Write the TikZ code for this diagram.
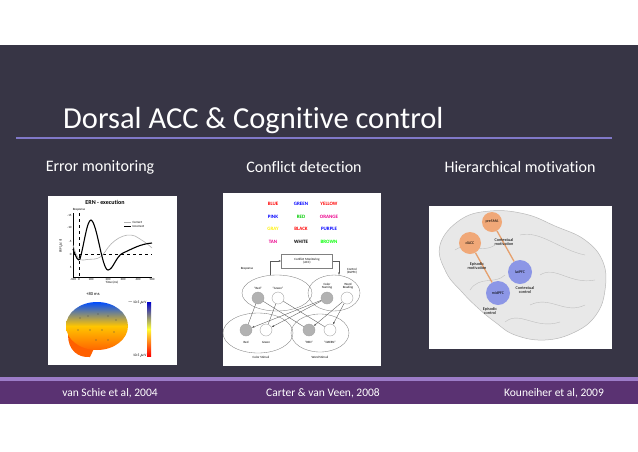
\documentclass[tikz,border=0pt]{standalone}
\usepackage{fontspec}
\setmainfont{Carlito}[Ligatures=NoCommon]
\usetikzlibrary{arrows.meta}
\definecolor{slide}{HTML}{373545}
\definecolor{rule}{HTML}{8078C8}
\definecolor{barlt}{HTML}{9C7CC8}
\definecolor{bar}{HTML}{5A3272}
\definecolor{orng}{HTML}{F0A878}
\definecolor{blu}{HTML}{8C96E6}
\tikzset{
  head/.style={text=white,font=\fontsize{16}{18}\selectfont},
  cite/.style={text=white,font=\fontsize{11.5}{13}\selectfont},
  tiny/.style={font=\fontsize{3.2}{3.6}\selectfont,inner sep=0.3pt,align=center},
  stroop/.style={font=\bfseries\fontsize{5}{6}\selectfont,inner sep=0.5pt},
  blob/.style={circle,draw=gray!70,line width=0.4pt,minimum size=12pt,inner sep=0pt},
  link/.style={gray!70!black,line width=0.35pt},
  area/.style={circle,inner sep=0pt,font=\fontsize{4}{5}\selectfont},
}
\begin{document}
\begin{tikzpicture}[x=1pt,y=-1pt]
\useasboundingbox (0,0) rectangle (638,451);
\fill[white] (0,0) rectangle (638,451);
\fill[slide] (0,45) rectangle (638,378);
\fill[barlt] (0,377) rectangle (638,381);
\fill[bar] (0,381) rectangle (638,404);
% title
\node[anchor=base west,text=white,inner sep=0pt,font=\fontsize{30.5}{33}\selectfont] (title) at (63,128) {Dorsal ACC \& Cognitive control};
\draw[rule,line width=1.2pt] (16,138) -- (612,138);
\node[head] (h1) at (100,167) {Error monitoring};
\node[head] (h2) at (304,167) {Conflict detection};
\node[head] (h3) at (520,167) {Hierarchical motivation};
\node[cite] (c1) at (110,393) {van Schie et al, 2004};
\node[cite] (c2) at (323,393) {Carter \& van Veen, 2008};
\node[cite] (c3) at (554,393) {Kouneiher et al, 2009};

% ---- left panel: ERN ----
\fill[white] (48,196) rectangle (177,365);
\node[font=\bfseries\fontsize{6}{7}\selectfont,inner sep=0pt] (ern) at (105,202) {ERN - execution};
\node[tiny] (resp) at (79,210) {Response};
\draw[line width=0.4pt] (73,213) -- (73,277) -- (152,277);
\foreach \v/\y in {-15/215,-10/227,-5/241,0/254,5/267}
  \node[tiny,anchor=east] at (72,\y) {\v};
\foreach \v/\x in {-100/73,0/79,100/91,200/108,300/123,400/138,500/152}
  \node[tiny,anchor=north] at (\x,278) {\v};
\node[tiny,rotate=90] (erp) at (61,246) {ERP [$\mu$V]};
\node[tiny] (tm) at (112,283) {Time (ms)};
\draw[dashed,line width=0.4pt] (73,254) -- (152,254);
\draw[dashed,line width=0.4pt] (79,213) -- (79,277);
\draw[gray!60,line width=0.6pt] (73,245) .. controls (76,255) and (79,262) .. (84,260) .. controls (92,258) and (98,262) .. (105,252) .. controls (112,240) and (125,232) .. (135,236) .. controls (142,240) and (148,244) .. (152,248);
\draw[line width=1.1pt] (73,249) .. controls (76,257) and (78,262) .. (80,259) .. controls (84,245) and (87,220) .. (91,220) .. controls (97,222) and (102,270) .. (108,270) .. controls (113,270) and (116,256) .. (123,253) .. controls (132,249) and (140,244) .. (152,243);
\draw[gray!60,line width=0.5pt] (124,222) -- (131,222); \node[tiny,anchor=west] at (132,222) {Correct};
\draw[line width=0.9pt] (124,226) -- (131,226); \node[tiny,anchor=west] at (132,226) {Incorrect};
% scalp map
\node[tiny,font=\fontsize{4.5}{5}\selectfont] (ms) at (93,294) {+80 ms};
\fill[orange!75!red] (68,335) .. controls (68,350) and (78,358) .. (90,357) -- (98,340) -- cycle;
\shade[top color=blue!70!cyan,bottom color=orange!80!red,middle color=orange!45!yellow] (97,326) ellipse (31 and 24);
\foreach \p in {(80,318),(88,316),(98,314),(108,316),(116,320),(78,330),(90,330),(102,330),(114,332),(96,340),(108,340)}
  \fill[black!70] \p circle (0.6);
\shade[top color=blue!80!black,bottom color=red,middle color=yellow!80] (147,302) rectangle (151,356);
\node[tiny,font=\fontsize{3.6}{4}\selectfont,anchor=east] at (147,302) {$-$10.5 $\mu$V};
\node[tiny,font=\fontsize{3.6}{4}\selectfont,anchor=east] at (147,356) {10.5 $\mu$V};

% ---- middle panel: conflict ----
\fill[white] (223,193) rectangle (381,366);
\foreach \w/\c/\x/\y in {BLUE/red/273/204,GREEN/blue/301/204,YELLOW/red/329/204,
  PINK/blue/273/217,RED/green!80!black/301/217,ORANGE/magenta/329/217,
  GRAY/yellow/273/229,BLACK/red/301/229,PURPLE/blue/329/229,
  TAN/magenta/273/242,WHITE/black/301/242,BROWN/green/329/242}
  \node[stroop,text=\c] at (\x,\y) {\w};
\node[draw=gray,line width=0.3pt,tiny,minimum width=51pt,minimum height=14pt] (acc) at (307,261) {Conflict Monitoring\\(ACC)};
\node[tiny] (rl) at (247,269) {Response};
\node[tiny] (cl) at (352,271) {Control\\(DLPFC)};
\draw[gray,line width=0.35pt] (277,293) ellipse (35 and 18);
\draw[gray,line width=0.35pt] (334,293) ellipse (26 and 18);
\draw[gray,line width=0.35pt] (258,333) ellipse (35 and 20);
\draw[gray,line width=0.35pt] (320,333) ellipse (29 and 19);
\coordinate (rtop) at (270,275);
\coordinate (ctop) at (339,275);
\draw[link,-{Latex[length=2.5pt]}] (rtop) |- (acc.west);
\draw[link,-{Latex[length=2.5pt]}] (acc.east) -| (ctop);
\node[blob,fill=gray!60] (r1) at (258,298) {};
\node[blob,fill=white] (r2) at (278,298) {};
\node[blob,fill=gray!60] (k1) at (327,298) {};
\node[blob,fill=white] (k2) at (347,298) {};
\node[blob,fill=gray!60] (s1) at (246,330) {};
\node[blob,fill=white] (s2) at (266,330) {};
\node[blob,fill=gray!60] (w1) at (309,330) {};
\node[blob,fill=white] (w2) at (330,330) {};
\node[tiny] at (258,288) {``Red''};
\node[tiny] at (278,288) {``Green''};
\node[tiny] at (327,286) {Color\\Naming};
\node[tiny] at (348,286) {Word\\Reading};
\node[tiny] at (246,342) {Red};
\node[tiny] at (266,342) {Green};
\node[tiny] at (309,342) {``RED''};
\node[tiny] at (330,342) {``GREEN''};
\node[tiny] at (261,357) {Color Stimuli};
\node[tiny] at (320,357) {Word Stimuli};
\draw[link] (r1) -- (s1);
\draw[link] (r1) -- (w1);
\draw[link] (r2) -- (s2);
\draw[link] (r2) -- (w2);
\draw[link,-{Latex[length=2.5pt]}] (k1) -- (s1);
\draw[link,-{Latex[length=2.5pt]}] (k1) -- (s2);
\draw[link,-{Latex[length=2.5pt]}] (k2) -- (w1);
\draw[link,-{Latex[length=2.5pt]}] (k2) -- (w2);

% ---- right panel: brain ----
\fill[white] (429,206) rectangle (612,349);
\fill[gray!18,draw=gray!55,line width=0.5pt] plot[smooth cycle,tension=0.7] coordinates
  {(440,245) (460,220) (490,211) (525,214) (555,226) (585,240) (603,262) (605,290) (596,315) (575,332) (545,340) (515,335) (495,322) (478,308) (462,292) (446,272)};
\draw[gray!50,line width=0.4pt] (455,250) .. controls (470,240) and (480,255) .. (495,245);
\draw[gray!50,line width=0.4pt] (520,235) .. controls (540,230) and (560,250) .. (585,255);
\draw[gray!50,line width=0.4pt] (540,275) .. controls (555,265) and (570,285) .. (595,280);
\draw[gray!50,line width=0.4pt] (530,305) .. controls (550,295) and (565,315) .. (585,305);
\draw[gray!50,line width=0.4pt] (470,290) .. controls (480,275) and (495,285) .. (505,275);
\draw[gray!50,line width=0.4pt] (505,322) .. controls (520,310) and (535,330) .. (560,322);
\node[area,fill=orng,minimum size=20pt] (presma) at (492,222) {preSMA};
\node[area,fill=orng,minimum size=22pt] (dacc) at (470,243) {dACC};
\node[area,fill=blu,minimum size=24pt] (latpfc) at (520,272) {latPFC};
\node[area,fill=blu,minimum size=24pt] (midpfc) at (498,293) {midPFC};
\draw[orng!80!brown,line width=1.3pt] (presma) -- (latpfc);
\draw[orng!80!brown,line width=1.3pt] (dacc) -- (midpfc);
\node[tiny,font=\fontsize{4.3}{4.6}\selectfont] at (504,242) {Contextual\\motivation};
\node[tiny,font=\fontsize{4.3}{4.6}\selectfont] at (477,266) {Episodic\\motivation};
\node[tiny,font=\fontsize{4.3}{4.6}\selectfont] at (525,290) {Contextual\\control};
\node[tiny,font=\fontsize{4.3}{4.6}\selectfont] at (490,311) {Episodic\\control};
\end{tikzpicture}
\end{document}
